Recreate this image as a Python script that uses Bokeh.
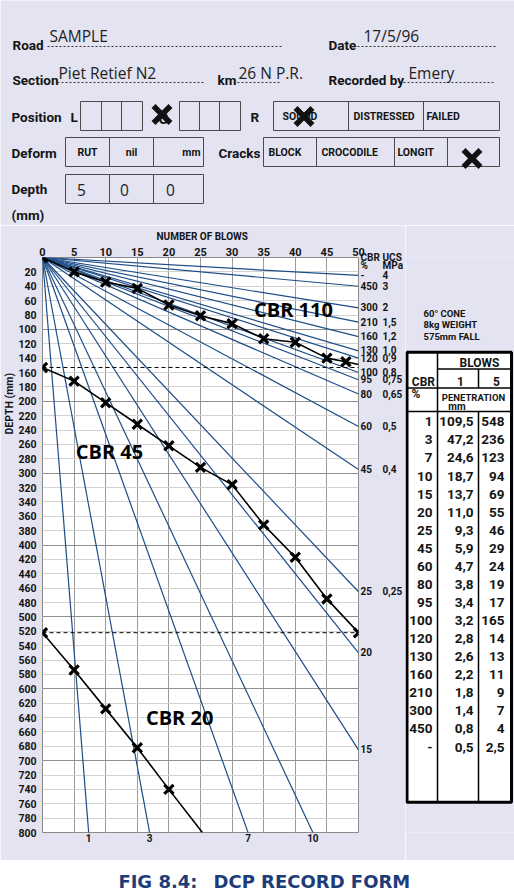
from bokeh.plotting import figure
from bokeh.models import Range1d, LinearAxis, FixedTicker, Span, Title
from bokeh.layouts import column, row
from bokeh.embed import file_html
from bokeh.resources import INLINE
from bokeh.core.properties import value

# ---------------- DATA ----------------
cbr_classes = ["1", "3", "7", "10", "15", "20", "25", "45", "60", "80", "95",
               "100", "120", "130", "160", "210", "300", "450", "-"]
pen_1_blow = [109.5, 47.2, 24.6, 18.7, 13.7, 11.0, 9.3, 5.9, 4.7, 3.8, 3.4,
              3.2, 2.8, 2.6, 2.2, 1.8, 1.4, 0.8, 0.5]
pen_5_blows = ["548", "236", "123", "94", "69", "55", "46", "29", "24", "19", "17",
               "165", "14", "13", "11", "9", "7", "4", "2,5"]
ucs_mpa = ["", "", "", "", "", "", "0,25", "0,4", "0,5", "0,65", "0,75",
           "0,8", "0,9", "1,0", "1,2", "1,5", "2", "3", "4"]

blows_cbr110 = [0, 5, 10, 15, 20, 25, 30, 35, 40, 45, 48]
depth_cbr110 = [0, 20, 34, 43, 66, 81, 92, 113, 118, 140, 145]
line_end_cbr110 = (50, 149)

blows_cbr45 = [0, 5, 10, 15, 20, 25, 30, 35, 40, 45, 50]
depth_cbr45 = [153, 172, 202, 232, 262, 292, 316, 372, 417, 475, 522]

blows_cbr20 = [0, 5, 10, 15, 20]
depth_cbr20 = [522, 574, 628, 682, 740]
line_end_cbr20 = (25.3, 800)

blow_ticks = list(range(0, 51, 5))
depth_ticks = list(range(20, 801, 20))
depth_major_grid = list(range(100, 800, 100))
blow_max, depth_max = 50, 800
scale_heads = {"CBR": ("CBR", "%"), "UCS": ("UCS", "MPa")}

form_labels = ["Road", "Date", "Section", "km", "Recorded by", "Position", "L", "R",
               "Deform", "Cracks", "Depth", "(mm)"]
form_entries = ["SAMPLE", "17/5/96", "Piet Retief N2", "26 N P.R.", "Emery"]
condition_words = ["SOUND", "DISTRESSED", "FAILED"]
deform_words = ["RUT", "nil", "mm"]
crack_words = ["BLOCK", "CROCODILE", "LONGIT"]
depth_digits = ["5", "0", "0"]
cone_notes = ["60° CONE", "8kg WEIGHT", "575mm FALL"]
layer_names = ["CBR 110", "CBR 45", "CBR 20"]
title_parts = ["FIG 8.4:", "DCP RECORD FORM"]

# ---------------- STYLE ----------------
LAV = "#e3e3f1"
RAY = "#1d4d88"
NARROW_S = "Roboto"
NARROW = value(NARROW_S)
SANS = value("Open Sans")
INK = "#141414"


def blank(fig):
    fig.grid.visible = False
    fig.axis.visible = False
    return fig


# ---------------- FORM (top) ----------------
form = figure(width=514, height=225, x_range=Range1d(0, 514), y_range=Range1d(225, 0),
              output_backend="svg", toolbar_location=None, min_border=0,
              x_axis_location=None, y_axis_location=None,
              background_fill_color=LAV, border_fill_color=LAV, outline_line_color=None)
blank(form)

lab_x = [12, 328, 12, 217, 328, 11, 70, 250, 11, 218, 11, 11]
lab_y = [44, 44, 79, 79, 79, 116, 116, 116, 152, 152, 188, 214]
form.text(x=lab_x, y=lab_y, text=form_labels, text_font=NARROW, text_font_style="bold",
          text_font_size="13.5px", text_baseline="middle", text_color=INK)

# dotted fill-in lines
form.segment(x0=[47, 357, 57, 237, 403], y0=[46, 46, 82, 82, 82],
             x1=[283, 495, 203, 280, 495], y1=[46, 46, 82, 82, 82],
             line_color="#333", line_width=1, line_dash="2 2")
form.text(x=[49, 363, 58, 238, 408], y=[35, 35, 72, 72, 72], text=form_entries,
          text_font=SANS, text_font_size="15.5px", text_baseline="middle", text_color="#222")

# boxes
cells = [
    (80, 101, 101, 130), (101, 121, 101, 130), (121, 142, 101, 130),
    (179, 199, 101, 130), (199, 219, 101, 130), (219, 240, 101, 130),
    (273, 348, 101, 130), (348, 423, 101, 130), (423, 499, 101, 130),
    (65, 109, 137, 166), (109, 153, 137, 166), (153, 203, 137, 166),
    (263, 316, 137, 166), (316, 394, 137, 166), (394, 447, 137, 166), (447, 499, 137, 166),
    (65, 109, 174, 203), (109, 153, 174, 203), (153, 203, 174, 203),
]
form.quad(left=[c[0] for c in cells], right=[c[1] for c in cells],
          top=[c[2] for c in cells], bottom=[c[3] for c in cells],
          fill_color=None, line_color="#4a4a4a", line_width=1)

box_txt = dict(text_font=NARROW, text_font_style="bold", text_font_size="10.5px",
               text_baseline="middle", text_color=INK)
form.text(x=[282, 353, 426], y=[116, 116, 116], text=condition_words, **box_txt)
form.text(x=[87, 131], y=[152, 152], text=deform_words[:2], text_align="center", **box_txt)
form.text(x=[200], y=[152], text=deform_words[2:], text_align="right", **box_txt)
form.text(x=[268, 321, 397], y=[152, 152, 152], text=crack_words, **box_txt)
form.text(x=[81, 124, 170], y=[189, 189, 189], text=depth_digits, text_font=SANS,
          text_font_size="15.5px", text_baseline="middle", text_align="center", text_color="#222")
form.text(x=[163], y=[118], text=["C"], text_font=NARROW, text_font_style="bold",
          text_font_size="15px", text_baseline="middle", text_align="center", text_color=INK)
# the three crosses
form.scatter(x=[161.5, 303.5, 471.5], y=[114, 116, 158], marker="x", size=24,
             line_width=5.5, color="#111")

# ---------------- CHART ----------------
ch = figure(width=405, height=635, x_range=Range1d(0, blow_max), y_range=Range1d(depth_max, 0),
            x_axis_location="above", y_axis_location="left",
            output_backend="svg", toolbar_location=None,
            min_border_left=39, min_border_right=43, min_border_top=32, min_border_bottom=28,
            background_fill_color="white", border_fill_color=LAV,
            outline_line_color="#8a8a8a", outline_line_width=1)

ch.title.text = "NUMBER OF BLOWS"
ch.title.align = "left"
ch.title.offset = 114
ch.title.standoff = 5
ch.title.text_font = NARROW_S
ch.title.text_font_style = "bold"
ch.title.text_font_size = "10px"
ch.title.text_color = INK

# grids
ch.xgrid.ticker = FixedTicker(ticks=blow_ticks)
ch.xgrid.grid_line_color = "#9a9a9a"
ch.xgrid.grid_line_width = 1
ch.ygrid.ticker = FixedTicker(ticks=depth_major_grid, minor_ticks=depth_ticks)
ch.ygrid.grid_line_color = "#8f8f8f"
ch.ygrid.grid_line_width = 1.2
ch.ygrid.minor_grid_line_color = "#d2d2d2"
ch.ygrid.minor_grid_line_width = 1


def style_axis(ax, size, standoff):
    ax.major_label_text_font = NARROW_S
    ax.major_label_text_font_style = "bold"
    ax.major_label_text_font_size = size
    ax.major_label_text_color = INK
    ax.major_label_standoff = standoff
    ax.major_tick_line_color = None
    ax.minor_tick_line_color = None
    ax.major_tick_out = 0
    ax.major_tick_in = 0
    ax.minor_tick_out = 0
    ax.minor_tick_in = 0
    ax.axis_line_color = None


top_ax = ch.xaxis[0]
top_ax.ticker = FixedTicker(ticks=blow_ticks)
style_axis(top_ax, "11px", 2)

left_ax = ch.yaxis[0]
left_ax.ticker = FixedTicker(ticks=depth_ticks)
style_axis(left_ax, "10.5px", 6)

depth_title = Title(text="DEPTH (mm)", align="left", offset=398, standoff=0,
                    text_font=NARROW_S, text_font_style="bold", text_font_size="10.5px",
                    text_color=INK)
ch.add_layout(depth_title, "left")

# rays of equal CBR from the origin
ch.segment(x0=0, y0=0, x1=blow_max, y1=[blow_max * p for p in pen_1_blow],
           line_color=RAY, line_width=1.2)

# rays reaching the bottom edge -> bottom labels, the rest -> right labels
head_pos = [0.3, 11.4]
bottom_ticks, bottom_over = [], {}
right_ticks, right_over = list(head_pos), dict(zip(head_pos, scale_heads["CBR"]))
ucs_ticks, ucs_over = list(head_pos), dict(zip(head_pos, scale_heads["UCS"]))
for c, p, u in zip(cbr_classes, pen_1_blow, ucs_mpa):
    if blow_max * p > depth_max:
        t = round(depth_max / p, 4)
        bottom_ticks.append(t)
        bottom_over[t] = c
    else:
        t = round(blow_max * p, 4)
        right_ticks.append(t)
        right_over[t] = c
        if u:
            ucs_ticks.append(t)
            ucs_over[t] = u

bottom_ax = LinearAxis(ticker=FixedTicker(ticks=bottom_ticks), major_label_overrides=bottom_over)
style_axis(bottom_ax, "10px", 1)
ch.add_layout(bottom_ax, "below")

right_ax = LinearAxis(ticker=FixedTicker(ticks=right_ticks), major_label_overrides=right_over)
style_axis(right_ax, "10px", 2)
ch.add_layout(right_ax, "right")

ucs_ax = LinearAxis(ticker=FixedTicker(ticks=ucs_ticks), major_label_overrides=ucs_over)
style_axis(ucs_ax, "10px", 0)
ch.add_layout(ucs_ax, "right")

# layer boundaries
for d in (depth_cbr45[0], depth_cbr20[0]):
    ch.add_layout(Span(location=d, dimension="width", line_color="black",
                       line_width=1, line_dash="4 3"))

# measured layers
for bx, dy, end in [(blows_cbr110, depth_cbr110, line_end_cbr110),
                    (blows_cbr45, depth_cbr45, None),
                    (blows_cbr20, depth_cbr20, line_end_cbr20)]:
    lx = list(bx) + ([end[0]] if end else [])
    ly = list(dy) + ([end[1]] if end else [])
    ch.line(lx, ly, line_color="black", line_width=1.6)
    ch.scatter(bx, dy, marker="x", size=13, line_width=3.2, color="black")

ch.text(x=[39.7, 10.6, 21.7], y=[72, 270.5, 639.6], text=layer_names, text_font=SANS,
        text_font_style="bold", text_font_size="20px", text_align="center",
        text_baseline="middle", text_color="black")

# ---------------- TABLE (right) ----------------
tb = figure(width=109, height=635, x_range=Range1d(405, 514), y_range=Range1d(860, 225),
            output_backend="svg", toolbar_location=None, min_border=0,
            x_axis_location=None, y_axis_location=None,
            background_fill_color=LAV, border_fill_color=LAV, outline_line_color=None)
blank(tb)

tb.text(x=[423, 423, 423], y=[287, 299.5, 312], text=cone_notes, text_font=NARROW,
        text_font_style="bold", text_font_size="9.5px", text_baseline="middle", text_color=INK)

TL, TR, TT, TBm, C1, C2 = 406.5, 511, 329.5, 826.5, 437, 478
tb.quad(left=[TL], right=[TR], top=[TT], bottom=[TBm], fill_color="white",
        line_color="black", line_width=3)
tb.segment(x0=[C1, C2, C2, C1, TL, TL], y0=[TT, 348, 395, 348, 369, 395],
           x1=[C1, C2, C2, TR, TR, TR], y1=[TBm, 369, TBm, 348, 369, 395],
           line_color="black", line_width=1.5)

hdr = dict(text_font=NARROW, text_font_style="bold", text_baseline="middle", text_color=INK)
tb.text(x=[479], y=[341.5], text=["BLOWS"], text_align="center", text_font_size="12px", **hdr)
tb.text(x=[434.5], y=[362], text=["CBR"], text_align="right", text_font_size="12px", **hdr)
tb.text(x=[460, 496], y=[362, 362], text=["1", "5"], text_align="center", text_font_size="12px", **hdr)
tb.text(x=[411], y=[375.5], text=["%"], text_align="left", text_font_size="12px", **hdr)
tb.text(x=[473], y=[379.5], text=["PENETRATION"], text_align="center", text_font_size="9.5px", **hdr)
tb.text(x=[456.5], y=[389.5], text=["mm"], text_align="center", text_font_size="10px", **hdr)

row_y = [406.5 + i * 19.95 for i in range(len(cbr_classes))]
pen1_txt = [f"{p:.1f}".replace(".", ",") for p in pen_1_blow]
tb.text(x=[432] * len(row_y), y=row_y, text=cbr_classes, text_align="right", text_font_size="13.5px", **hdr)
tb.text(x=[473] * len(row_y), y=row_y, text=pen1_txt, text_align="right", text_font_size="13.5px", **hdr)
tb.text(x=[504] * len(row_y), y=row_y, text=pen_5_blows, text_align="right", text_font_size="13.5px", **hdr)

# ---------------- TITLE (bottom) ----------------
tt = figure(width=514, height=30, x_range=Range1d(0, 514), y_range=Range1d(890, 860),
            output_backend="svg", toolbar_location=None, min_border=0,
            x_axis_location=None, y_axis_location=None,
            background_fill_color="white", border_fill_color="white", outline_line_color=None)
blank(tt)
ttl = dict(text_font=value("DejaVu Sans"), text_font_style="bold", text_font_size="18px",
           text_baseline="middle", text_color="#1e3c78")
tt.text(x=[197], y=[880.5], text=title_parts[:1], text_align="right", **ttl)
tt.text(x=[213], y=[880.5], text=title_parts[1:], text_align="left", **ttl)

layout = column(form, row(ch, tb), tt)
open("out.html", "w").write(file_html(layout, INLINE))
